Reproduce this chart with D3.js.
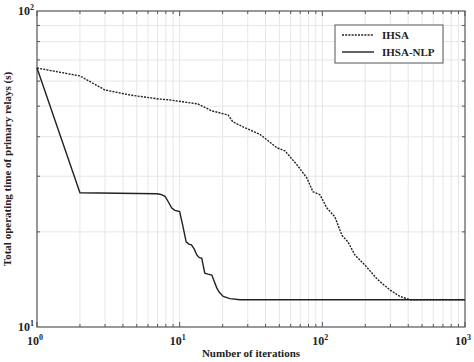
<!DOCTYPE html>
<html><head><meta charset="utf-8">
<script src="https://cdn.jsdelivr.net/npm/d3@7"></script>
<style>body{margin:0;background:#fff}svg{display:block}</style>
</head><body>
<svg id="c" width="474" height="362"></svg>
<script>
const seriesNames = ["IHSA", "IHSA-NLP"];
const ihsaIter = [1, 2, 3.0, 4.5, 7.3, 8.55, 10.5, 13.4, 16.8, 21.8, 23.6, 27.8, 36.5, 40.9, 48.1, 54.7, 66.4, 78.0, 85.9, 96.2, 107.7, 122.5, 137.2, 151.1, 169.2, 198.9, 245.2, 297.7, 349.9, 411, 1000];
const ihsaVal  = [66.0, 62.3, 56.2, 54.2, 52.6, 52.3, 51.6, 50.8, 48.3, 46.9, 44.6, 43.0, 40.7, 39.1, 36.9, 36.1, 32.6, 29.6, 26.8, 26.2, 23.8, 22.3, 19.5, 18.6, 16.9, 15.7, 14.1, 13.1, 12.5, 12.2, 12.2];
const nlpIter = [1, 2, 6.9, 7.28, 7.52, 7.89, 8.28, 8.8, 9.27, 10.0, 10.5, 11.1, 11.6, 12.1, 12.6, 13.2, 13.65, 14.3, 14.6, 15.0, 15.8, 16.8, 17.4, 18.2, 18.9, 20.2, 22.5, 26.5, 1000];
const nlpVal  = [66.0, 26.6, 26.4, 26.3, 26.2, 25.9, 25.0, 23.8, 23.4, 23.2, 21.0, 18.6, 18.3, 18.2, 17.7, 16.9, 16.6, 16.5, 15.7, 14.8, 14.7, 14.6, 14.0, 13.3, 12.9, 12.5, 12.3, 12.2, 12.2];
const xMajor = [1, 10, 100, 1000];
const xMajorExp = ["0", "1", "2", "3"];
const yMajor = [10, 100];
const yMajorExp = ["1", "2"];
const xLabel = "Number of iterations";
const yLabel = "Total operating time of primary relays (s)";

const svg = d3.select("#c");
const L = 37, R = 465, T = 11, B = 327;
const x = d3.scaleLog().domain([1, 1000]).range([L, R]);
const y = d3.scaleLog().domain([10, 100]).range([B, T]);

const xMinor = [];
for (let k = 0; k < 3; k++) for (let m = 2; m <= 9; m++) xMinor.push(m * Math.pow(10, k));
const yMinor = [];
for (let m = 2; m <= 9; m++) yMinor.push(m * 10);

const font = "'Liberation Serif','Times New Roman',serif";
const grid = svg.append("g").attr("stroke", "#e6e6e6").attr("stroke-width", 1);
xMinor.concat(xMajor.slice(1, -1)).forEach(v => {
  grid.append("line").attr("x1", x(v)).attr("x2", x(v)).attr("y1", T).attr("y2", B);
});
yMinor.forEach(v => {
  grid.append("line").attr("x1", L).attr("x2", R).attr("y1", y(v)).attr("y2", y(v));
});

// ticks
const tk = svg.append("g").attr("stroke", "#555").attr("stroke-width", 1);
xMinor.forEach(v => {
  tk.append("line").attr("x1", x(v)).attr("x2", x(v)).attr("y1", B).attr("y2", B - 3);
  tk.append("line").attr("x1", x(v)).attr("x2", x(v)).attr("y1", T).attr("y2", T + 3);
});
xMajor.forEach(v => {
  tk.append("line").attr("x1", x(v)).attr("x2", x(v)).attr("y1", B).attr("y2", B - 5);
  tk.append("line").attr("x1", x(v)).attr("x2", x(v)).attr("y1", T).attr("y2", T + 5);
});
yMinor.forEach(v => {
  tk.append("line").attr("x1", L).attr("x2", L + 3).attr("y1", y(v)).attr("y2", y(v));
  tk.append("line").attr("x1", R).attr("x2", R - 3).attr("y1", y(v)).attr("y2", y(v));
});

// frame
svg.append("rect").attr("x", L).attr("y", T).attr("width", R - L).attr("height", B - T)
  .attr("fill", "none").attr("stroke", "#555").attr("stroke-width", 1.2);

// tick labels
xMajor.forEach((v, i) => {
  const t = svg.append("text").attr("x", x(v) - 2).attr("y", 345).attr("text-anchor", "middle")
    .attr("font-family", font).attr("font-weight", "bold").attr("font-size", 12).attr("fill", "#222");
  t.append("tspan").text("10");
  t.append("tspan").attr("dy", -5).attr("font-size", 8).text(xMajorExp[i]);
});
yMajor.forEach((v, i) => {
  const t = svg.append("text").attr("x", 34).attr("y", y(v) + 4).attr("text-anchor", "end")
    .attr("font-family", font).attr("font-weight", "bold").attr("font-size", 12).attr("fill", "#222");
  t.append("tspan").text("10");
  t.append("tspan").attr("dy", -5).attr("font-size", 8).text(yMajorExp[i]);
});

// axis labels
svg.append("text").attr("x", (L + R) / 2).attr("y", 357).attr("text-anchor", "middle")
  .attr("font-family", font).attr("font-weight", "bold").attr("font-size", 11).attr("fill", "#222").text(xLabel);
svg.append("text").attr("transform", `translate(11,${(T + B) / 2}) rotate(-90)`).attr("text-anchor", "middle")
  .attr("font-family", font).attr("font-weight", "bold").attr("font-size", 11).attr("fill", "#222").text(yLabel);

// lines
const line = d3.line().x(d => x(d[0])).y(d => y(d[1]));
svg.append("path").datum(ihsaIter.map((v, i) => [v, ihsaVal[i]])).attr("d", line)
  .attr("fill", "none").attr("stroke", "#222").attr("stroke-width", 1.4).attr("stroke-dasharray", "2,1.2");
svg.append("path").datum(nlpIter.map((v, i) => [v, nlpVal[i]])).attr("d", line)
  .attr("fill", "none").attr("stroke", "#222").attr("stroke-width", 1.4);

// legend
const lg = svg.append("g");
lg.append("rect").attr("x", 335).attr("y", 25).attr("width", 108).attr("height", 38)
  .attr("fill", "#fff").attr("stroke", "#555").attr("stroke-width", 1);
lg.append("line").attr("x1", 342).attr("x2", 374).attr("y1", 35).attr("y2", 35)
  .attr("stroke", "#222").attr("stroke-width", 1.4).attr("stroke-dasharray", "2,1.2");
lg.append("line").attr("x1", 342).attr("x2", 374).attr("y1", 52).attr("y2", 52)
  .attr("stroke", "#222").attr("stroke-width", 1.4);
seriesNames.forEach((n, i) => {
  lg.append("text").attr("x", 382).attr("y", [39, 56][i]).attr("font-family", font)
    .attr("font-weight", "bold").attr("font-size", 11).attr("fill", "#222").text(n);
});
</script>
</body></html>
